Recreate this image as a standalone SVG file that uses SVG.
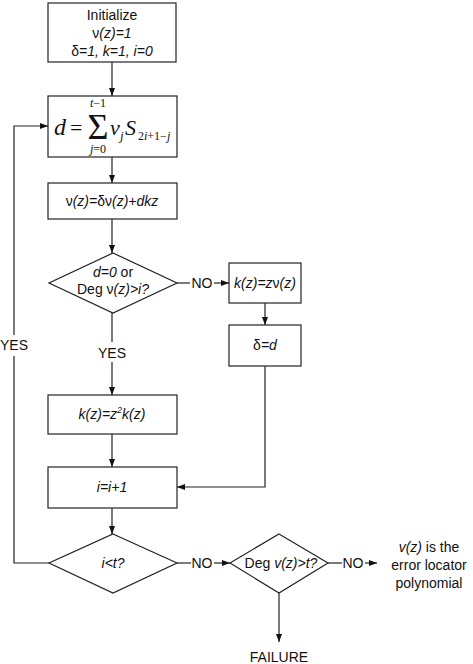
<svg xmlns="http://www.w3.org/2000/svg" width="473" height="664" viewBox="0 0 473 664">
<defs>
<marker id="arr" markerWidth="8" markerHeight="6" refX="8" refY="3" orient="auto" markerUnits="userSpaceOnUse">
<path d="M0,0 L8,3 L0,6 Z" fill="#111"/>
</marker>
<style>
.box{fill:#fff;stroke:#222;stroke-width:1.2}
.ln{fill:none;stroke:#222;stroke-width:1.2}
.t{font-family:"Liberation Sans",Arial,sans-serif;font-size:14px;fill:#111;text-anchor:middle}
.i{font-style:italic}
.m{font-family:"Liberation Serif","Times New Roman",serif;font-style:italic;fill:#111}
</style>
</defs>
<rect width="473" height="664" fill="#fff"/>
<g id="connectors">
<line class="ln" x1="112" y1="62" x2="112" y2="96" marker-end="url(#arr)"/>
<line class="ln" x1="112" y1="157" x2="112" y2="183" marker-end="url(#arr)"/>
<line class="ln" x1="112" y1="219" x2="112" y2="253" marker-end="url(#arr)"/>
<line class="ln" x1="177" y1="283" x2="190" y2="283"/>
<line class="ln" x1="214" y1="283" x2="229" y2="283" marker-end="url(#arr)"/>
<line class="ln" x1="265" y1="303" x2="265" y2="325" marker-end="url(#arr)"/>
<polyline class="ln" points="265,366 265,487 177,487" marker-end="url(#arr)"/>
<line class="ln" x1="112" y1="313" x2="112" y2="342"/>
<line class="ln" x1="112" y1="362" x2="112" y2="395" marker-end="url(#arr)"/>
<line class="ln" x1="112" y1="434" x2="112" y2="467" marker-end="url(#arr)"/>
<line class="ln" x1="112" y1="508" x2="112" y2="534" marker-end="url(#arr)"/>
<polyline class="ln" points="49,563 14,563 14,356"/>
<polyline class="ln" points="14,335 14,126 48,126" marker-end="url(#arr)"/>
<line class="ln" x1="177" y1="563" x2="191" y2="563"/>
<line class="ln" x1="214" y1="563" x2="230" y2="563" marker-end="url(#arr)"/>
<line class="ln" x1="328" y1="563" x2="342" y2="563"/>
<line class="ln" x1="365" y1="563" x2="377" y2="563" marker-end="url(#arr)"/>
<line class="ln" x1="279" y1="593" x2="279" y2="642" marker-end="url(#arr)"/>
<text class="t" x="202" y="288">NO</text>
<text class="t" x="112" y="358">YES</text>
<text class="t" x="14" y="350">YES</text>
<text class="t" x="202" y="568">NO</text>
<text class="t" x="353" y="568">NO</text>
</g>
<g id="init">
<rect class="box" x="48" y="3" width="128" height="59"/>
<text class="t" x="112" y="20">Initialize</text>
<text class="t" x="112" y="38">ν<tspan class="i">(z)=1</tspan></text>
<text class="t" x="112" y="56">δ<tspan class="i">=1, k=1, i=0</tspan></text>
</g>
<g id="sum">
<rect class="box" x="48" y="96" width="129" height="61"/>
<text class="m" x="54" y="135" font-size="24">d</text>
<text x="70" y="135" font-size="22" font-family="Liberation Serif,serif" fill="#111">=</text>
<text x="98" y="139" font-size="36" font-family="Liberation Serif,serif" fill="#111" text-anchor="middle">Σ</text>
<text class="m" x="98" y="107" font-size="12" text-anchor="middle">t<tspan font-style="normal">−1</tspan></text>
<text class="m" x="98" y="153" font-size="12" text-anchor="middle">j<tspan font-style="normal">=0</tspan></text>
<text class="m" x="110" y="135" font-size="22">ν</text>
<text class="m" x="120" y="140" font-size="13">j</text>
<text class="m" x="125" y="135" font-size="22">S</text>
<text class="m" x="138" y="140" font-size="12"><tspan font-style="normal">2</tspan>i<tspan font-style="normal">+1−</tspan>j</text>
</g>
<g id="update">
<rect class="box" x="48" y="183" width="129" height="36"/>
<text class="t" x="112" y="206">ν<tspan class="i">(z)=</tspan>δν<tspan class="i">(z)+dkz</tspan></text>
</g>
<g id="dec1">
<polygon class="box" points="113,253 177,283 113,313 49,283"/>
<text class="t" x="113" y="277"><tspan class="i">d=0</tspan> or</text>
<text class="t" x="113" y="294">Deg ν<tspan class="i">(z)&gt;i?</tspan></text>
</g>
<g id="kzv">
<rect class="box" x="229" y="263" width="72" height="40"/>
<text class="t" x="265" y="288"><tspan class="i">k(z)=z</tspan>ν<tspan class="i">(z)</tspan></text>
</g>
<g id="deltad">
<rect class="box" x="229" y="325" width="72" height="41"/>
<text class="t" x="265" y="350">δ<tspan class="i">=d</tspan></text>
</g>
<g id="kz2">
<rect class="box" x="48" y="395" width="129" height="39"/>
<text class="t i" x="112" y="419">k(z)=z<tspan font-size="9" dy="-6">2</tspan><tspan dy="6">k(z)</tspan></text>
</g>
<g id="inc">
<rect class="box" x="48" y="467" width="129" height="41"/>
<text class="t i" x="112" y="492">i=i+1</text>
</g>
<g id="dec2">
<polygon class="box" points="113,534 177,563 113,593 49,563"/>
<text class="t i" x="113" y="568">i&lt;t?</text>
</g>
<g id="dec3">
<polygon class="box" points="279,534 328,563 279,593 230,563"/>
<text class="t" x="281" y="568">Deg <tspan class="i">v(z)&gt;t?</tspan></text>
</g>
<g id="result">
<text class="t" x="429" y="552"><tspan class="i">v(z)</tspan> is the</text>
<text class="t" x="429" y="570">error locator</text>
<text class="t" x="429" y="588">polynomial</text>
</g>
<g id="failure">
<text class="t" x="279" y="662">FAILURE</text>
</g>
</svg>
